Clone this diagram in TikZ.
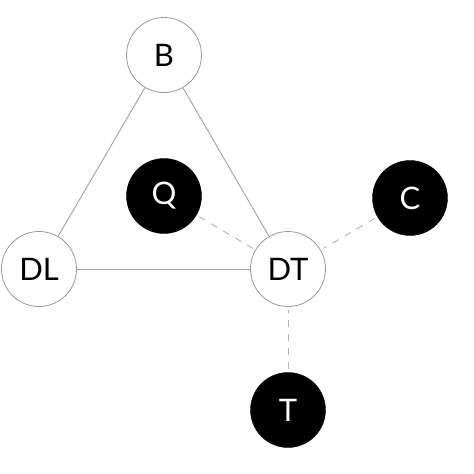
\documentclass[tikz,border=0pt]{standalone}
\usepackage{fontspec}
\setmainfont{Lato}
\usepackage{tikz}
\usetikzlibrary{positioning}
\definecolor{edgegray}{RGB}{160,160,160}
\definecolor{ringgray}{RGB}{150,150,150}

\begin{document}
\begin{tikzpicture}[x=1pt,y=-1pt,
  lightnode/.style={circle, draw=ringgray, line width=0.8pt, fill=white, minimum size=75pt, inner sep=0pt, font=\fontsize{31}{31}\selectfont},
  darknode/.style={circle, draw=black, fill=black, text=white, minimum size=75pt, inner sep=0pt, font=\fontsize{31}{31}\selectfont},
  link/.style={draw=edgegray, line width=0.9pt},
  dashlink/.style={draw=edgegray!80, line width=0.9pt, dash pattern=on 7pt off 7pt, shorten <=3pt, shorten >=3pt}]
  \useasboundingbox (0,0) rectangle (474,474);

  \node[lightnode] (b) at (164,55) {B};
  \node[lightnode] (dl) at (39,269) {DL};
  \node[lightnode] (dt) at (288,269) {DT};
  \node[darknode] (q) at (164,196) {Q};
  \node[darknode] (c) at (410,198) {C};
  \node[darknode] (t) at (288,410) {T};

  \draw[link] (b) -- (dl);
  \draw[link] (b) -- (dt);
  \draw[link] (dl) -- (dt);
  \draw[dashlink] (q) -- (dt);
  \draw[dashlink] (c) -- (dt);
  \draw[dashlink] (t) -- (dt);
\end{tikzpicture}
\end{document}
